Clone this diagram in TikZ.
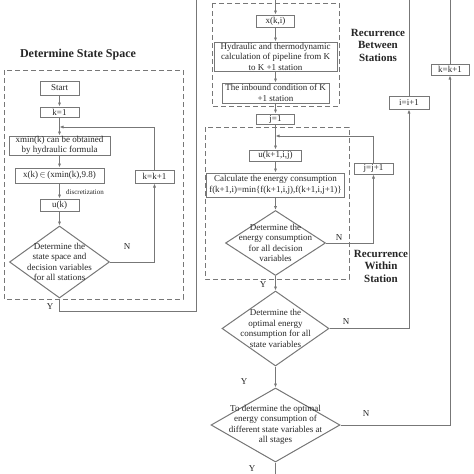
\documentclass[tikz,border=0pt]{standalone}
\usepackage{fontspec}
\setmainfont{Liberation Serif}
\usetikzlibrary{shapes.geometric,arrows.meta}
\definecolor{ln}{HTML}{777777}
\definecolor{tx}{HTML}{262626}
\tikzset{
  base/.style={font=\fontsize{9}{10.5}\selectfont, text=tx},
  box/.style={base, draw=ln, line width=1pt, inner sep=0pt, align=center},
  dia/.style={draw=ln, line width=1pt, diamond, inner sep=0pt},
  dtext/.style={base, align=center, inner sep=0pt},
  lab/.style={base, inner sep=0pt},
  ttl/.style={font=\fontsize{11}{12.5}\selectfont\bfseries, text=tx, align=center, inner sep=0pt},
  frame/.style={draw=ln, line width=1pt, dash pattern=on 5pt off 3pt},
  con/.style={draw=ln, line width=1pt},
  arr/.style={con, -{Latex[length=4pt,width=3.2pt]}}
}
\begin{document}
\begin{tikzpicture}[x=1pt,y=-1pt]
\useasboundingbox (0,0) rectangle (474,474);
% dashed frames
\draw[frame] (4,70) rectangle (183,299);
\draw[frame] (212,3) rectangle (339,106);
\draw[frame] (205,127) rectangle (349,279);
% titles
\node[ttl, font=\fontsize{12}{13}\selectfont\bfseries] (t1) at (78,55) {Determine State Space};
\node[ttl] (t2) at (378,45) {Recurrence\\Between\\Stations};
\node[ttl] (t3) at (381,266) {Recurrence\\Within\\Station};
% left column
\node[box, minimum width=39, minimum height=14] (start) at (59.5,88) {Start};
\node[box, minimum width=39, minimum height=10] (k1) at (59.5,112) {k=1};
\node[box, minimum width=101, minimum height=19] (xmin) at (59.5,145.5) {xmin(k) can be obtained\\by hydraulic formula};
\node[box, minimum width=89, minimum height=15] (xk) at (59.5,175.5) {x(k)\,$\in$\,(xmin(k),9.8)};
\node[box, minimum width=39, minimum height=12] (uk) at (59.5,205) {u(k)};
\node[dia, minimum width=100, minimum height=72] (d1) at (59.5,262) {};
\node[dtext] (d1t) at (59.5,262) {Determine the\\state space and\\decision variables\\for all stations};
\node[box, minimum width=39, minimum height=13] (kkL) at (154.5,176.5) {k=k+1};
\coordinate (jL) at (59.5,127);
\node[lab, font=\fontsize{7}{8}\selectfont] (disc) at (85,192) {discretization};
\node[lab] (n1) at (127,247) {N};
\node[lab] (y1) at (50,307) {Y};
% middle column
\node[box, minimum width=38, minimum height=12] (xki) at (275.5,21) {x(k,i)};
\node[box, minimum width=123, minimum height=29] (hyd) at (275.5,56.5) {Hydraulic and thermodynamic\\calculation of pipeline from K\\to K +1 station};
\node[box, minimum width=107, minimum height=20] (inb) at (275.5,93) {The inbound condition of K\\+1 station};
\node[box, minimum width=38, minimum height=10] (j1) at (275.5,119) {j=1};
\node[box, minimum width=52, minimum height=11] (ukij) at (275.5,155.5) {u(k+1,i,j)};
\node[box, minimum width=138, minimum height=24] (calc) at (275.5,185) {Calculate the energy consumption\\f(k+1,i)=min\{f(k+1,i,j),f(k+1,i,j+1)\}};
\node[dia, minimum width=100, minimum height=65] (d2) at (275.5,243) {};
\node[dtext] (d2t) at (275.5,243) {Determine the\\energy consumption\\for all decision\\variables};
\node[box, minimum width=39, minimum height=11] (jj1) at (373.5,168.5) {j=j+1};
\coordinate (jM) at (275.5,136);
\node[dia, minimum width=107, minimum height=75] (d3) at (275.5,328.5) {};
\node[dtext] (d3t) at (275.5,328.5) {Determine the\\optimal energy\\consumption for all\\state variables};
\node[box, minimum width=40, minimum height=13] (ii1) at (409,102.5) {i=i+1};
\node[dia, minimum width=129, minimum height=74] (d4) at (275.5,425) {};
\node[dtext] (d4t) at (275.5,425) {To determine the optimal\\energy consumption of\\different state variables at\\all stages};
\node[box, minimum width=38, minimum height=11] (kkR) at (450,69.5) {k=k+1};
\node[lab] (n2) at (339,238) {N};
\node[lab] (y2) at (263,285) {Y};
\node[lab] (n3) at (346,322) {N};
\node[lab] (y3) at (244,382) {Y};
\node[lab] (n4) at (366,414) {N};
\node[lab] (y4) at (252,469) {Y};
% free ends at the top and bottom
\coordinate (topL) at (196,0);
\coordinate (topM) at (275.5,0);
\coordinate (topI) at (409,0);
\coordinate (topK) at (450,0);
\coordinate (bot) at (275.5,474);
\coordinate (cornL) at (59.5,311);
% connectors left
\draw[arr] (start) -- (k1);
\draw[arr] (k1) -- (xmin);
\draw[arr] (xmin) -- (xk);
\draw[arr] (xk) -- (uk);
\draw[arr] (uk) -- (d1);
\draw[arr] (d1.east) -| (kkL.south);
\draw[arr] (kkL.north) |- (jL);
\draw[con] (d1.south) -- (cornL) -| (topL);
% connectors middle
\draw[arr] (topM) -- (xki);
\draw[arr] (xki) -- (hyd);
\draw[arr] (hyd) -- (inb);
\draw[arr] (inb) -- (j1);
\draw[arr] (j1) -- (ukij);
\draw[arr] (ukij) -- (calc);
\draw[arr] (calc) -- (d2);
\draw[arr] (d2.east) -| (jj1.south);
\draw[arr] (jj1.north) |- (jM);
\draw[arr] (d2) -- (d3);
\draw[arr] (d3) -- (d4);
\draw[arr] (d3.east) -| (ii1.south);
\draw[con] (ii1.north) -- (topI);
\draw[arr] (d4.east) -| (kkR.south);
\draw[con] (kkR.north) -- (topK);
\draw[con] (d4.south) -- (bot);
\end{tikzpicture}
\end{document}
